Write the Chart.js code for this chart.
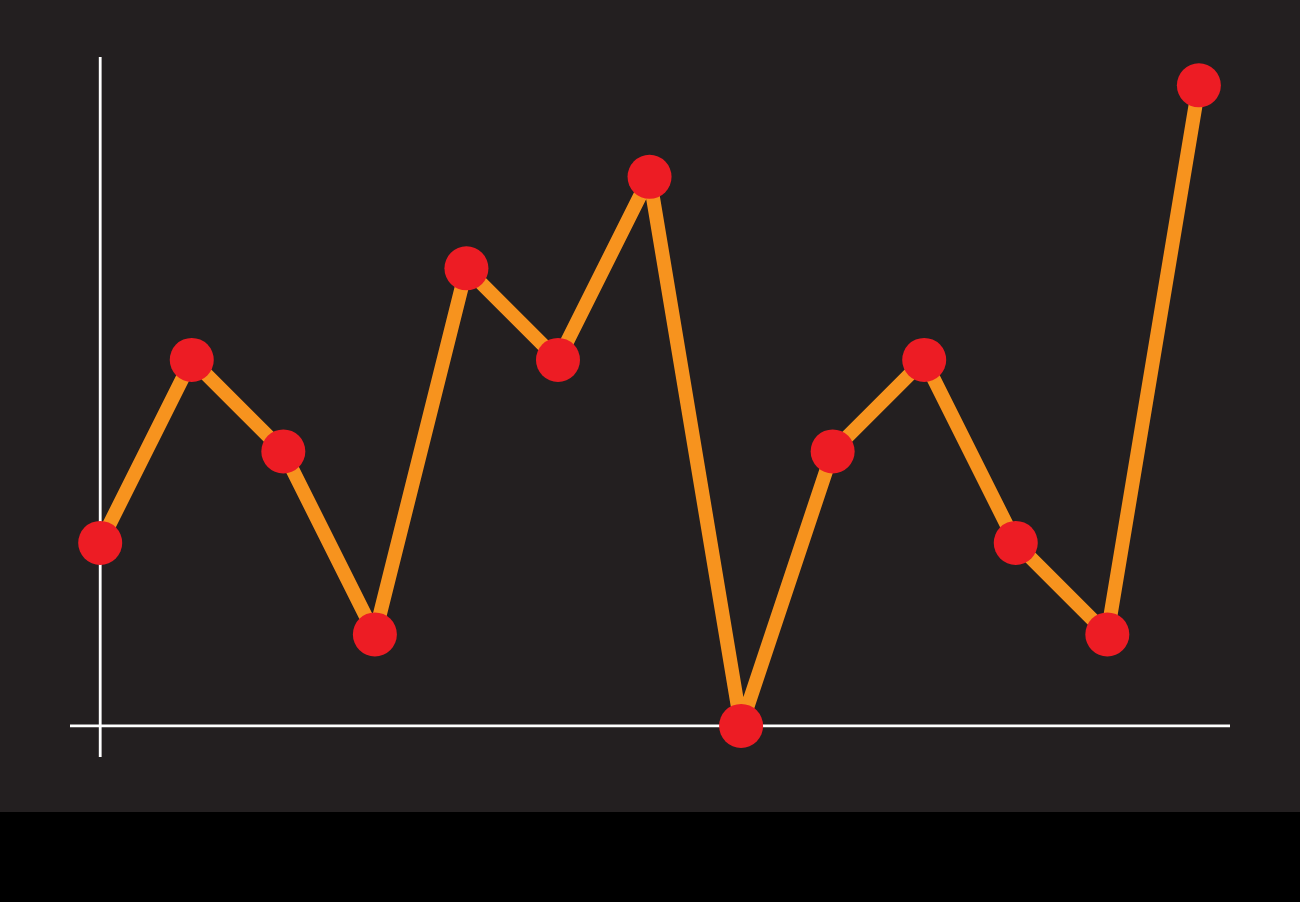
<!DOCTYPE html>
<html>
<head>
<meta charset="utf-8">
<script src="https://cdn.jsdelivr.net/npm/chart.js@4/dist/chart.umd.min.js"></script>
<style>
  html, body { margin: 0; padding: 0; background: #231f20; }
  #wrap { width: 1300px; height: 812px; position: relative; }
  #strip { width: 1300px; height: 90px; background: #000; }
</style>
</head>
<body>
<div id="wrap"><canvas id="chart"></canvas></div>
<div id="strip"></div>
<script>
// data
const positions = [0, 1, 2, 3, 4, 5, 6, 7, 8, 9, 10, 11, 12];
const values = [2, 4, 3, 1, 5, 4, 6, 0, 3, 4, 2, 1, 7];

// axis lines drawn through value 0 on each scale
const crossAxes = {
  id: "crossAxes",
  beforeDatasetsDraw(chart) {
    const { ctx, chartArea, scales } = chart;
    const x0 = scales.x.getPixelForValue(0);
    const y0 = scales.y.getPixelForValue(0);
    ctx.save();
    ctx.strokeStyle = "#ffffff";
    ctx.lineWidth = 2.8;
    ctx.beginPath();
    ctx.moveTo(chartArea.left, y0);
    ctx.lineTo(chartArea.right, y0);
    ctx.moveTo(x0, chartArea.top);
    ctx.lineTo(x0, chartArea.bottom);
    ctx.stroke();
    ctx.restore();
  },
};

new Chart(document.getElementById("chart"), {
  type: "line",
  data: {
    datasets: [
      {
        data: positions.map((p, i) => ({ x: p, y: values[i] })),
        borderColor: "#f7931e",
        borderWidth: 14,
        borderJoinStyle: "round",
        pointBackgroundColor: "#ed1c24",
        pointBorderWidth: 0,
        pointRadius: 22,
        pointHoverRadius: 22,
        tension: 0,
        clip: false,
      },
    ],
  },
  options: {
    responsive: true,
    maintainAspectRatio: false,
    animation: false,
    layout: { padding: { left: 70, right: 70, top: 57, bottom: 55 } },
    plugins: { legend: { display: false }, tooltip: { enabled: false } },
    scales: {
      x: {
        type: "linear",
        min: -0.33,
        max: 12.34,
        display: false,
      },
      y: {
        min: -0.34,
        max: 7.31,
        display: false,
      },
    },
  },
  plugins: [crossAxes],
});
</script>
</body>
</html>
